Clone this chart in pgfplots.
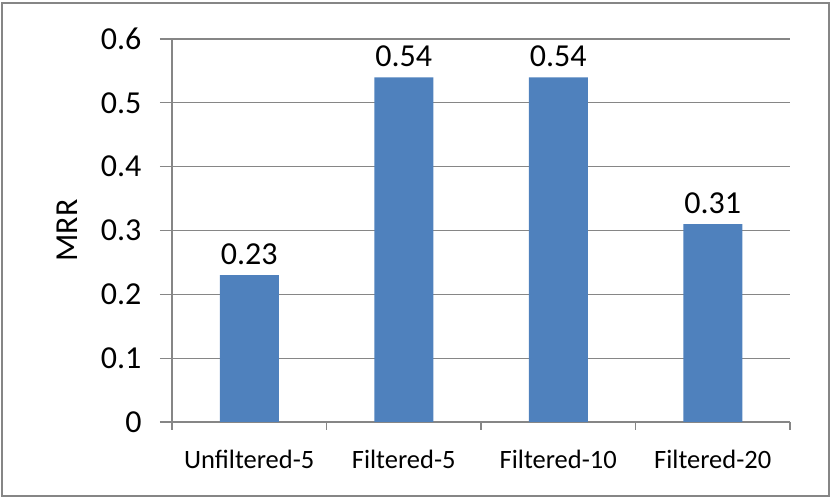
\documentclass[border=0pt]{standalone}
\usepackage{fontspec}
\setmainfont{Carlito}
\usepackage{pgfplots}
\pgfplotsset{compat=1.18}
\definecolor{barblue}{HTML}{4F81BD}
\definecolor{gridgray}{HTML}{868686}
\begin{document}
\begin{tikzpicture}
\useasboundingbox (0,0) rectangle (832bp,502bp);
\draw[gridgray, line width=1.5bp] (2bp,6bp) rectangle (829bp,499bp);
\begin{axis}[
  at={(172bp,80bp)}, anchor=south west,
  scale only axis, width=618bp, height=383bp,
  /pgf/number format/assume math mode=true,
  xmin=0.5, xmax=4.5, ymin=0, ymax=0.6,
  xtick={1,2,3,4},
  xticklabels={Unfiltered-5, Filtered-5, Filtered-10, Filtered-20},
  minor xtick={0.5,1.5,2.5,3.5,4.5},
  ytick={0,0.1,0.2,0.3,0.4,0.5,0.6},
  axis x line*=bottom, axis y line*=left,
  axis line style={draw=gridgray, line width=1.3bp, -},
  ymajorgrids, major grid style={draw=gridgray, line width=1.3bp},
  tick align=outside,
  major tick length=12bp, minor tick length=8bp,
  major x tick style={draw=none},
  minor x tick style={draw=gridgray, line width=1.3bp},
  major y tick style={draw=gridgray, line width=1.3bp},
  yticklabel style={font=\fontsize{32bp}{38bp}\selectfont, xshift=-15bp},
  xticklabel style={font=\fontsize{26.5bp}{32bp}\selectfont, yshift=-13bp},
  ylabel={MRR},
  ylabel style={font=\fontsize{32bp}{38bp}\selectfont, at={(axis description cs:-0.17,0.5)}, anchor=center},
  ybar, bar width=59bp,
  nodes near coords,
  every node near coord/.append style={font=\fontsize{32bp}{38bp}\selectfont, black, yshift=7bp},
]
\addplot[fill=barblue, draw=none] coordinates {(1,0.23) (2,0.54) (3,0.54) (4,0.31)};
\end{axis}
\end{tikzpicture}
\end{document}
